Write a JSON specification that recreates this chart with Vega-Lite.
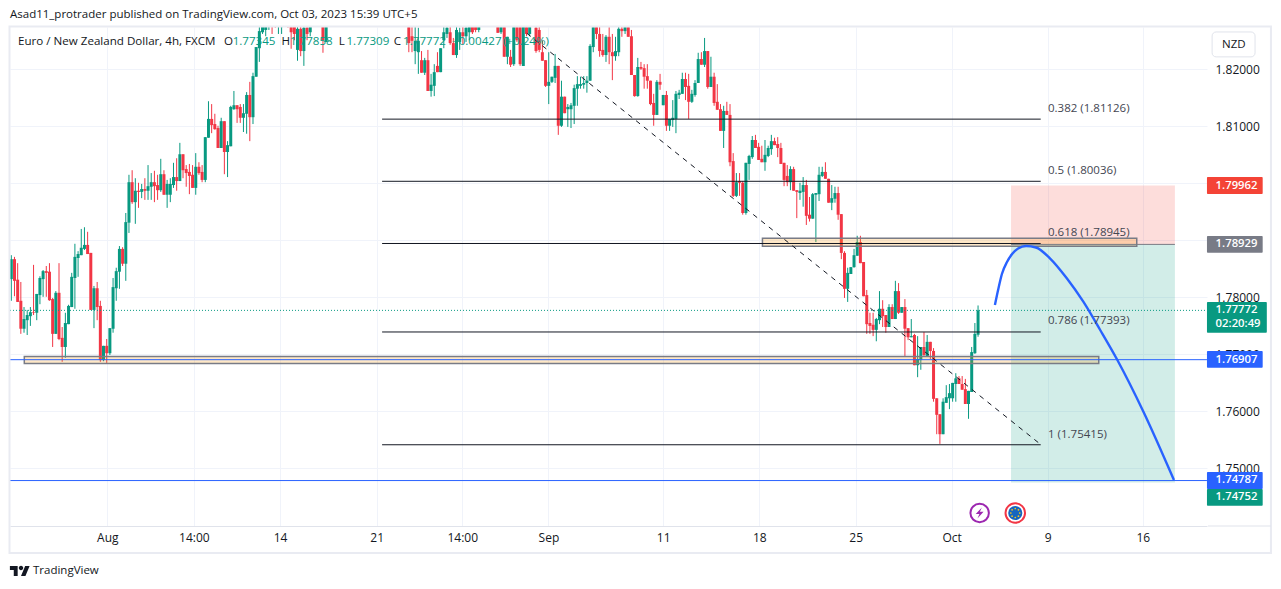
{
"$schema":"https://vega.github.io/schema/vega-lite/v6.json",
"width":1197,"height":499,"autosize":"none",
"padding":{"left":10,"top":27,"right":74,"bottom":63},
"background":"white",
"config":{"view":{"stroke":null},"font":"Open Sans"},
"datasets":{
"candles":[
{"i":0,"o":1.7832,"h":1.7874,"l":1.7794,"c":1.7867},{"i":1,"o":1.7867,"h":1.7871,"l":1.7802,"c":1.7829},{"i":2,"o":1.7831,"h":1.7860,"l":1.7792,"c":1.7792},{"i":3,"o":1.7794,"h":1.7827,"l":1.7736,"c":1.7745},{"i":4,"o":1.7745,"h":1.7783,"l":1.7738,"c":1.7762},{"i":5,"o":1.7760,"h":1.7778,"l":1.7734,"c":1.7769},{"i":6,"o":1.7767,"h":1.7783,"l":1.7750,"c":1.7774},{"i":7,"o":1.7774,"h":1.7857,"l":1.7769,"c":1.7773},{"i":8,"o":1.7773,"h":1.7806,"l":1.7760,"c":1.7806},{"i":9,"o":1.7804,"h":1.7837,"l":1.7788,"c":1.7834},
{"i":10,"o":1.7832,"h":1.7848,"l":1.7801,"c":1.7846},{"i":11,"o":1.7846,"h":1.7855,"l":1.7801,"c":1.7843},{"i":12,"o":1.7845,"h":1.7860,"l":1.7794,"c":1.7795},{"i":13,"o":1.7797,"h":1.7799,"l":1.7713,"c":1.7736},{"i":14,"o":1.7736,"h":1.7811,"l":1.7736,"c":1.7808},{"i":15,"o":1.7808,"h":1.7860,"l":1.7725,"c":1.7727},{"i":16,"o":1.7729,"h":1.7748,"l":1.7687,"c":1.7713},{"i":17,"o":1.7713,"h":1.7773,"l":1.7694,"c":1.7755},{"i":18,"o":1.7753,"h":1.7787,"l":1.7753,"c":1.7785},{"i":19,"o":1.7783,"h":1.7843,"l":1.7783,"c":1.7836},
{"i":20,"o":1.7834,"h":1.7894,"l":1.7780,"c":1.7871},{"i":21,"o":1.7869,"h":1.7881,"l":1.7836,"c":1.7876},{"i":22,"o":1.7874,"h":1.7920,"l":1.7874,"c":1.7887},{"i":23,"o":1.7885,"h":1.7923,"l":1.7883,"c":1.7892},{"i":24,"o":1.7892,"h":1.7915,"l":1.7876,"c":1.7876},{"i":25,"o":1.7878,"h":1.7878,"l":1.7778,"c":1.7778},{"i":26,"o":1.7778,"h":1.7820,"l":1.7746,"c":1.7816},{"i":27,"o":1.7816,"h":1.7827,"l":1.7760,"c":1.7783},{"i":28,"o":1.7785,"h":1.7794,"l":1.7687,"c":1.7690},{"i":29,"o":1.7690,"h":1.7715,"l":1.7688,"c":1.7715},
{"i":30,"o":1.7715,"h":1.7727,"l":1.7685,"c":1.7702},{"i":31,"o":1.7702,"h":1.7746,"l":1.7699,"c":1.7746},{"i":32,"o":1.7745,"h":1.7834,"l":1.7738,"c":1.7818},{"i":33,"o":1.7816,"h":1.7852,"l":1.7794,"c":1.7846},{"i":34,"o":1.7845,"h":1.7890,"l":1.7815,"c":1.7885},{"i":35,"o":1.7885,"h":1.7888,"l":1.7855,"c":1.7859},{"i":36,"o":1.7859,"h":1.7948,"l":1.7829,"c":1.7932},{"i":37,"o":1.7931,"h":1.8015,"l":1.7913,"c":1.8002},{"i":38,"o":1.8002,"h":1.8023,"l":1.7964,"c":1.7967},{"i":39,"o":1.7967,"h":1.8009,"l":1.7929,"c":1.7987},
{"i":40,"o":1.7987,"h":1.8001,"l":1.7957,"c":1.7985},{"i":41,"o":1.7985,"h":1.7999,"l":1.7974,"c":1.7990},{"i":42,"o":1.7990,"h":1.8009,"l":1.7971,"c":1.7987},{"i":43,"o":1.7987,"h":1.8032,"l":1.7971,"c":1.7995},{"i":44,"o":1.7994,"h":1.8018,"l":1.7971,"c":1.8002},{"i":45,"o":1.8002,"h":1.8022,"l":1.7967,"c":1.7995},{"i":46,"o":1.7997,"h":1.8015,"l":1.7971,"c":1.7988},{"i":47,"o":1.7988,"h":1.8043,"l":1.7985,"c":1.8016},{"i":48,"o":1.8016,"h":1.8023,"l":1.7980,"c":1.7980},{"i":49,"o":1.7980,"h":1.8006,"l":1.7957,"c":1.7999},
{"i":50,"o":1.7980,"h":1.8009,"l":1.7967,"c":1.7999},{"i":51,"o":1.7997,"h":1.8036,"l":1.7992,"c":1.8011},{"i":52,"o":1.8011,"h":1.8044,"l":1.7987,"c":1.8004},{"i":53,"o":1.8004,"h":1.8071,"l":1.8004,"c":1.8051},{"i":54,"o":1.8051,"h":1.8051,"l":1.8009,"c":1.8023},{"i":55,"o":1.8025,"h":1.8032,"l":1.7994,"c":1.8018},{"i":56,"o":1.8020,"h":1.8034,"l":1.7981,"c":1.8013},{"i":57,"o":1.8015,"h":1.8032,"l":1.7992,"c":1.7992},{"i":58,"o":1.7992,"h":1.8053,"l":1.7980,"c":1.8029},{"i":59,"o":1.8029,"h":1.8037,"l":1.8015,"c":1.8018},
{"i":60,"o":1.8020,"h":1.8032,"l":1.8002,"c":1.8006},{"i":61,"o":1.8006,"h":1.8081,"l":1.8002,"c":1.8081},{"i":62,"o":1.8080,"h":1.8144,"l":1.8080,"c":1.8113},{"i":63,"o":1.8113,"h":1.8139,"l":1.8088,"c":1.8102},{"i":64,"o":1.8104,"h":1.8122,"l":1.8094,"c":1.8095},{"i":65,"o":1.8097,"h":1.8101,"l":1.8062,"c":1.8062},{"i":66,"o":1.8062,"h":1.8115,"l":1.8062,"c":1.8109},{"i":67,"o":1.8109,"h":1.8109,"l":1.8016,"c":1.8055},{"i":68,"o":1.8055,"h":1.8074,"l":1.8011,"c":1.8067},{"i":69,"o":1.8065,"h":1.8136,"l":1.8065,"c":1.8134},
{"i":70,"o":1.8130,"h":1.8162,"l":1.8129,"c":1.8137},{"i":71,"o":1.8137,"h":1.8137,"l":1.8106,"c":1.8130},{"i":72,"o":1.8134,"h":1.8139,"l":1.8106,"c":1.8115},{"i":73,"o":1.8115,"h":1.8139,"l":1.8090,"c":1.8123},{"i":74,"o":1.8122,"h":1.8160,"l":1.8087,"c":1.8155},{"i":75,"o":1.8155,"h":1.8178,"l":1.8074,"c":1.8116},{"i":76,"o":1.8116,"h":1.8194,"l":1.8104,"c":1.8188},{"i":77,"o":1.8187,"h":1.8239,"l":1.8187,"c":1.8239},{"i":78,"o":1.8237,"h":1.8274,"l":1.8213,"c":1.8267},{"i":79,"o":1.8265,"h":1.8287,"l":1.8262,"c":1.8276},
{"i":80,"o":1.8269,"h":1.8290,"l":1.8258,"c":1.8280},{"i":81,"o":1.8276,"h":1.8295,"l":1.8269,"c":1.8287},{"i":82,"o":1.8287,"h":1.8301,"l":1.8262,"c":1.8280},{"i":83,"o":1.8283,"h":1.8297,"l":1.8273,"c":1.8278},{"i":84,"o":1.8278,"h":1.8297,"l":1.8262,"c":1.8290},{"i":85,"o":1.8274,"h":1.8301,"l":1.8262,"c":1.8290},{"i":86,"o":1.8290,"h":1.8304,"l":1.8276,"c":1.8283},{"i":87,"o":1.8287,"h":1.8301,"l":1.8273,"c":1.8280},{"i":88,"o":1.8280,"h":1.8295,"l":1.8236,"c":1.8265},{"i":89,"o":1.8276,"h":1.8290,"l":1.8251,"c":1.8262},
{"i":90,"o":1.8234,"h":1.8283,"l":1.8215,"c":1.8271},{"i":91,"o":1.8271,"h":1.8287,"l":1.8223,"c":1.8232},{"i":92,"o":1.8232,"h":1.8283,"l":1.8206,"c":1.8273},{"i":93,"o":1.8273,"h":1.8290,"l":1.8251,"c":1.8262},{"i":94,"o":1.8265,"h":1.8290,"l":1.8258,"c":1.8280},{"i":98,"o":1.8280,"h":1.8295,"l":1.8229,"c":1.8251},{"i":99,"o":1.8248,"h":1.8290,"l":1.8248,"c":1.8280},
{"i":125,"o":1.8274,"h":1.8295,"l":1.8230,"c":1.8246},{"i":126,"o":1.8258,"h":1.8274,"l":1.8230,"c":1.8250},{"i":127,"o":1.8232,"h":1.8274,"l":1.8209,"c":1.8250},{"i":128,"o":1.8230,"h":1.8273,"l":1.8192,"c":1.8250},{"i":129,"o":1.8216,"h":1.8232,"l":1.8194,"c":1.8194},{"i":130,"o":1.8194,"h":1.8220,"l":1.8190,"c":1.8216},{"i":131,"o":1.8216,"h":1.8234,"l":1.8162,"c":1.8162},{"i":132,"o":1.8162,"h":1.8192,"l":1.8152,"c":1.8173},{"i":133,"o":1.8171,"h":1.8209,"l":1.8153,"c":1.8195},{"i":134,"o":1.8206,"h":1.8230,"l":1.8195,"c":1.8195},
{"i":135,"o":1.8195,"h":1.8237,"l":1.8195,"c":1.8237},{"i":136,"o":1.8251,"h":1.8274,"l":1.8237,"c":1.8265},{"i":137,"o":1.8262,"h":1.8280,"l":1.8255,"c":1.8273},{"i":138,"o":1.8265,"h":1.8283,"l":1.8243,"c":1.8246},{"i":139,"o":1.8246,"h":1.8255,"l":1.8225,"c":1.8225},{"i":140,"o":1.8225,"h":1.8278,"l":1.8220,"c":1.8269},{"i":141,"o":1.8248,"h":1.8273,"l":1.8234,"c":1.8265},{"i":142,"o":1.8265,"h":1.8280,"l":1.8244,"c":1.8258},{"i":143,"o":1.8258,"h":1.8280,"l":1.8248,"c":1.8273},{"i":144,"o":1.8265,"h":1.8287,"l":1.8251,"c":1.8280},
{"i":145,"o":1.8280,"h":1.8297,"l":1.8262,"c":1.8265},{"i":146,"o":1.8276,"h":1.8290,"l":1.8265,"c":1.8269},{"i":147,"o":1.8269,"h":1.8290,"l":1.8265,"c":1.8280},
{"i":153,"o":1.8280,"h":1.8297,"l":1.8264,"c":1.8264},{"i":154,"o":1.8265,"h":1.8294,"l":1.8262,"c":1.8280},{"i":155,"o":1.8274,"h":1.8290,"l":1.8222,"c":1.8222},{"i":156,"o":1.8222,"h":1.8257,"l":1.8209,"c":1.8257},{"i":157,"o":1.8222,"h":1.8234,"l":1.8204,"c":1.8208},{"i":158,"o":1.8209,"h":1.8278,"l":1.8206,"c":1.8274},{"i":159,"o":1.8274,"h":1.8290,"l":1.8248,"c":1.8251},{"i":160,"o":1.8274,"h":1.8294,"l":1.8206,"c":1.8209},{"i":161,"o":1.8206,"h":1.8283,"l":1.8206,"c":1.8274},{"i":162,"o":1.8274,"h":1.8295,"l":1.8258,"c":1.8262},{"i":163,"o":1.8262,"h":1.8290,"l":1.8258,"c":1.8276},
{"i":165,"o":1.8273,"h":1.8290,"l":1.8229,"c":1.8232},{"i":166,"o":1.8269,"h":1.8287,"l":1.8230,"c":1.8234},{"i":167,"o":1.8230,"h":1.8251,"l":1.8215,"c":1.8215},{"i":168,"o":1.8216,"h":1.8216,"l":1.8169,"c":1.8171},{"i":169,"o":1.8171,"h":1.8230,"l":1.8139,"c":1.8178},{"i":170,"o":1.8178,"h":1.8187,"l":1.8176,"c":1.8187},{"i":171,"o":1.8185,"h":1.8227,"l":1.8176,"c":1.8206},{"i":172,"o":1.8206,"h":1.8206,"l":1.8085,"c":1.8101},{"i":173,"o":1.8101,"h":1.8180,"l":1.8099,"c":1.8152},{"i":174,"o":1.8152,"h":1.8152,"l":1.8123,"c":1.8123},
{"i":175,"o":1.8130,"h":1.8139,"l":1.8099,"c":1.8134},{"i":176,"o":1.8130,"h":1.8141,"l":1.8097,"c":1.8137},{"i":177,"o":1.8136,"h":1.8173,"l":1.8104,"c":1.8167},{"i":178,"o":1.8166,"h":1.8188,"l":1.8136,"c":1.8174},{"i":179,"o":1.8171,"h":1.8187,"l":1.8166,"c":1.8174},{"i":180,"o":1.8173,"h":1.8188,"l":1.8166,"c":1.8176},{"i":181,"o":1.8176,"h":1.8188,"l":1.8159,"c":1.8180},{"i":182,"o":1.8180,"h":1.8244,"l":1.8180,"c":1.8241},{"i":183,"o":1.8239,"h":1.8276,"l":1.8230,"c":1.8274},{"i":184,"o":1.8274,"h":1.8280,"l":1.8253,"c":1.8262},
{"i":185,"o":1.8262,"h":1.8280,"l":1.8222,"c":1.8232},{"i":186,"o":1.8234,"h":1.8262,"l":1.8222,"c":1.8225},{"i":187,"o":1.8225,"h":1.8260,"l":1.8213,"c":1.8257},{"i":188,"o":1.8257,"h":1.8274,"l":1.8209,"c":1.8230},{"i":189,"o":1.8230,"h":1.8262,"l":1.8181,"c":1.8223},{"i":190,"o":1.8223,"h":1.8257,"l":1.8215,"c":1.8232},{"i":191,"o":1.8230,"h":1.8276,"l":1.8223,"c":1.8271},{"i":192,"o":1.8271,"h":1.8276,"l":1.8257,"c":1.8267},{"i":193,"o":1.8267,"h":1.8283,"l":1.8262,"c":1.8274},{"i":194,"o":1.8274,"h":1.8283,"l":1.8257,"c":1.8257},
{"i":195,"o":1.8258,"h":1.8269,"l":1.8190,"c":1.8190},{"i":196,"o":1.8190,"h":1.8190,"l":1.8152,"c":1.8153},{"i":197,"o":1.8153,"h":1.8220,"l":1.8152,"c":1.8204},{"i":198,"o":1.8204,"h":1.8213,"l":1.8199,"c":1.8201},{"i":199,"o":1.8202,"h":1.8209,"l":1.8166,"c":1.8187},{"i":200,"o":1.8188,"h":1.8209,"l":1.8166,"c":1.8180},{"i":201,"o":1.8180,"h":1.8180,"l":1.8137,"c":1.8139},{"i":202,"o":1.8141,"h":1.8157,"l":1.8101,"c":1.8120},{"i":203,"o":1.8120,"h":1.8181,"l":1.8120,"c":1.8178},{"i":204,"o":1.8178,"h":1.8192,"l":1.8164,"c":1.8173},
{"i":205,"o":1.8137,"h":1.8155,"l":1.8137,"c":1.8155},{"i":206,"o":1.8155,"h":1.8162,"l":1.8092,"c":1.8101},{"i":207,"o":1.8101,"h":1.8113,"l":1.8092,"c":1.8113},{"i":208,"o":1.8111,"h":1.8146,"l":1.8099,"c":1.8115},{"i":209,"o":1.8113,"h":1.8162,"l":1.8088,"c":1.8157},{"i":210,"o":1.8155,"h":1.8164,"l":1.8148,"c":1.8159},{"i":211,"o":1.8157,"h":1.8194,"l":1.8157,"c":1.8183},{"i":212,"o":1.8183,"h":1.8194,"l":1.8146,"c":1.8169},{"i":213,"o":1.8171,"h":1.8192,"l":1.8113,"c":1.8143},{"i":214,"o":1.8143,"h":1.8164,"l":1.8141,"c":1.8157},
{"i":215,"o":1.8155,"h":1.8181,"l":1.8152,"c":1.8176},{"i":216,"o":1.8176,"h":1.8229,"l":1.8176,"c":1.8218},{"i":217,"o":1.8218,"h":1.8230,"l":1.8208,"c":1.8208},{"i":218,"o":1.8208,"h":1.8255,"l":1.8204,"c":1.8232},{"i":219,"o":1.8232,"h":1.8232,"l":1.8166,"c":1.8169},{"i":220,"o":1.8169,"h":1.8222,"l":1.8169,"c":1.8187},{"i":221,"o":1.8187,"h":1.8194,"l":1.8136,"c":1.8141},{"i":222,"o":1.8143,"h":1.8174,"l":1.8129,"c":1.8129},{"i":223,"o":1.8130,"h":1.8139,"l":1.8092,"c":1.8092},{"i":224,"o":1.8092,"h":1.8136,"l":1.8062,"c":1.8127},
{"i":225,"o":1.8127,"h":1.8143,"l":1.8120,"c":1.8120},{"i":226,"o":1.8120,"h":1.8139,"l":1.8030,"c":1.8037},{"i":227,"o":1.8039,"h":1.8053,"l":1.7976,"c":1.7978},{"i":228,"o":1.7978,"h":1.8018,"l":1.7976,"c":1.8002},{"i":229,"o":1.8004,"h":1.8018,"l":1.7978,"c":1.8001},{"i":230,"o":1.8001,"h":1.8004,"l":1.7945,"c":1.7948},{"i":231,"o":1.7948,"h":1.8036,"l":1.7945,"c":1.8036},{"i":232,"o":1.8034,"h":1.8050,"l":1.8006,"c":1.8048},{"i":233,"o":1.8046,"h":1.8083,"l":1.8043,"c":1.8076},{"i":234,"o":1.8076,"h":1.8085,"l":1.8062,"c":1.8062},
{"i":235,"o":1.8064,"h":1.8071,"l":1.8041,"c":1.8041},{"i":236,"o":1.8043,"h":1.8066,"l":1.8037,"c":1.8037},{"i":237,"o":1.8037,"h":1.8076,"l":1.8022,"c":1.8050},{"i":238,"o":1.8048,"h":1.8066,"l":1.8046,"c":1.8062},{"i":239,"o":1.8060,"h":1.8085,"l":1.8050,"c":1.8074},{"i":240,"o":1.8074,"h":1.8080,"l":1.8067,"c":1.8067},{"i":241,"o":1.8069,"h":1.8081,"l":1.8046,"c":1.8062},{"i":242,"o":1.8062,"h":1.8071,"l":1.8034,"c":1.8034},{"i":243,"o":1.8036,"h":1.8036,"l":1.7995,"c":1.8006},{"i":244,"o":1.8013,"h":1.8032,"l":1.7995,"c":1.8002},
{"i":245,"o":1.8002,"h":1.8030,"l":1.7988,"c":1.8025},{"i":246,"o":1.8025,"h":1.8029,"l":1.7987,"c":1.7987},{"i":247,"o":1.7988,"h":1.7988,"l":1.7939,"c":1.7985},{"i":248,"o":1.7983,"h":1.8001,"l":1.7971,"c":1.7987},{"i":249,"o":1.7985,"h":1.8011,"l":1.7959,"c":1.7997},{"i":250,"o":1.7997,"h":1.8006,"l":1.7927,"c":1.7943},{"i":251,"o":1.7945,"h":1.7976,"l":1.7933,"c":1.7938},{"i":252,"o":1.7938,"h":1.7983,"l":1.7938,"c":1.7981},{"i":253,"o":1.7980,"h":1.7983,"l":1.7897,"c":1.7983},{"i":254,"o":1.7981,"h":1.8029,"l":1.7969,"c":1.8015},
{"i":255,"o":1.8013,"h":1.8029,"l":1.8011,"c":1.8020},{"i":256,"o":1.8020,"h":1.8037,"l":1.8008,"c":1.8008},{"i":257,"o":1.8008,"h":1.8008,"l":1.7966,"c":1.7966},{"i":258,"o":1.7966,"h":1.7997,"l":1.7953,"c":1.7974},{"i":259,"o":1.7973,"h":1.7994,"l":1.7966,"c":1.7983},{"i":260,"o":1.7983,"h":1.7994,"l":1.7936,"c":1.7945},{"i":261,"o":1.7946,"h":1.7946,"l":1.7867,"c":1.7878},{"i":262,"o":1.7878,"h":1.7881,"l":1.7799,"c":1.7815},{"i":263,"o":1.7815,"h":1.7852,"l":1.7792,"c":1.7843},{"i":264,"o":1.7841,"h":1.7853,"l":1.7841,"c":1.7853},
{"i":265,"o":1.7853,"h":1.7885,"l":1.7852,"c":1.7874},{"i":266,"o":1.7873,"h":1.7908,"l":1.7873,"c":1.7897},{"i":267,"o":1.7897,"h":1.7908,"l":1.7860,"c":1.7860},{"i":268,"o":1.7862,"h":1.7862,"l":1.7802,"c":1.7802},{"i":269,"o":1.7804,"h":1.7813,"l":1.7736,"c":1.7753},{"i":270,"o":1.7755,"h":1.7773,"l":1.7736,"c":1.7750},{"i":271,"o":1.7752,"h":1.7773,"l":1.7732,"c":1.7743},{"i":272,"o":1.7743,"h":1.7764,"l":1.7723,"c":1.7762},{"i":273,"o":1.7760,"h":1.7811,"l":1.7753,"c":1.7780},{"i":274,"o":1.7780,"h":1.7795,"l":1.7748,"c":1.7767},
{"i":275,"o":1.7769,"h":1.7769,"l":1.7738,"c":1.7748},{"i":276,"o":1.7748,"h":1.7788,"l":1.7748,"c":1.7783},{"i":277,"o":1.7783,"h":1.7788,"l":1.7762,"c":1.7762},{"i":278,"o":1.7762,"h":1.7829,"l":1.7762,"c":1.7811},{"i":279,"o":1.7811,"h":1.7825,"l":1.7771,"c":1.7773},{"i":280,"o":1.7773,"h":1.7783,"l":1.7773,"c":1.7783},{"i":281,"o":1.7783,"h":1.7797,"l":1.7697,"c":1.7745},{"i":282,"o":1.7746,"h":1.7746,"l":1.7725,"c":1.7730},{"i":283,"o":1.7730,"h":1.7762,"l":1.7730,"c":1.7732},{"i":284,"o":1.7734,"h":1.7736,"l":1.7681,"c":1.7681},
{"i":285,"o":1.7681,"h":1.7732,"l":1.7660,"c":1.7692},{"i":286,"o":1.7690,"h":1.7713,"l":1.7673,"c":1.7713},{"i":287,"o":1.7713,"h":1.7739,"l":1.7697,"c":1.7699},{"i":288,"o":1.7697,"h":1.7734,"l":1.7697,"c":1.7722},{"i":289,"o":1.7722,"h":1.7722,"l":1.7692,"c":1.7706},{"i":290,"o":1.7706,"h":1.7711,"l":1.7617,"c":1.7622},{"i":291,"o":1.7623,"h":1.7623,"l":1.7560,"c":1.7594},{"i":292,"o":1.7595,"h":1.7595,"l":1.7543,"c":1.7560},{"i":293,"o":1.7560,"h":1.7623,"l":1.7560,"c":1.7617},{"i":294,"o":1.7615,"h":1.7646,"l":1.7615,"c":1.7625},
{"i":295,"o":1.7623,"h":1.7648,"l":1.7604,"c":1.7632},{"i":296,"o":1.7623,"h":1.7650,"l":1.7617,"c":1.7650},{"i":297,"o":1.7648,"h":1.7667,"l":1.7617,"c":1.7658},{"i":298,"o":1.7658,"h":1.7662,"l":1.7648,"c":1.7648},{"i":299,"o":1.7648,"h":1.7662,"l":1.7638,"c":1.7638},{"i":300,"o":1.7639,"h":1.7657,"l":1.7613,"c":1.7613},{"i":301,"o":1.7613,"h":1.7636,"l":1.7587,"c":1.7636},{"i":302,"o":1.7634,"h":1.7713,"l":1.7634,"c":1.7704},{"i":303,"o":1.7702,"h":1.7755,"l":1.7701,"c":1.7736},{"i":304,"o":1.77345,"h":1.77858,"l":1.77309,"c":1.77772}
],
"position":[
{"i":314.37,"i2":365.9,"p":1.79962,"p2":1.78929,"kind":"stop"},
{"i":314.37,"i2":365.9,"p":1.78929,"p2":1.74752,"kind":"target"}
],
"zones":[
{"i":4.09,"i2":341.95,"p":1.76963,"p2":1.7684},
{"i":236.2,"i2":353.9,"p":1.79036,"p2":1.78896}
],
"fib":[
{"i":116.6,"i2":323.7,"p":1.81126},
{"i":116.6,"i2":323.7,"p":1.80036},
{"i":116.6,"i2":323.7,"p":1.78945},
{"i":116.6,"i2":323.7,"p":1.77393},
{"i":116.6,"i2":323.7,"p":1.75415}
],
"hlines":[
{"i":-0.41,"i2":375.98,"p":1.76907},
{"i":-0.41,"i2":375.98,"p":1.74787}
],
"trend":[{"i":162.1,"p":1.82632},{"i":323.8,"p":1.75415}],
"path":[
{"i":309.3,"p":1.77866},{"i":310.3,"p":1.78129},{"i":311.5,"p":1.7841},{"i":313.1,"p":1.7862},{"i":314.7,"p":1.78761},{"i":316.6,"p":1.78857},{"i":319.1,"p":1.78901},{"i":322.2,"p":1.78875},{"i":326.6,"p":1.78685},{"i":331.9,"p":1.78335},{"i":337.1,"p":1.77924},{"i":342.4,"p":1.77428},{"i":347.8,"p":1.76902},{"i":356,"p":1.75995},{"i":365.6,"p":1.74797}
],
"stars":[
{"i":317.1,"p":1.74218},{"i":314.3,"p":1.74218},{"i":315.7,"p":1.74297},{"i":315.7,"p":1.74139},{"i":316.7,"p":1.74274},{"i":314.7,"p":1.74274},{"i":316.7,"p":1.74162},{"i":314.7,"p":1.74162}
],
"tags":[
{"i":375.98,"i2":393.5,"p":1.80111,"p2":1.79813,"kind":"stop"},
{"i":375.98,"i2":393.5,"p":1.79077,"p2":1.78784,"kind":"entry"},
{"i":375.98,"i2":394.8,"p":1.77919,"p2":1.7738,"kind":"last"},
{"i":375.98,"i2":393.5,"p":1.77059,"p2":1.76766,"kind":"line"},
{"i":375.98,"i2":393.5,"p":1.74937,"p2":1.74639,"kind":"line"},
{"i":375.98,"i2":393.5,"p":1.74639,"p2":1.74346,"kind":"last"}
],
"tagText":[
{"i":378.7,"p":1.7996,"text":"1.79962"},
{"i":378.7,"p":1.7893,"text":"1.78929"},
{"i":378.7,"p":1.7778,"text":"1.77772"},
{"i":378.7,"p":1.7753,"text":"02:20:49"},
{"i":378.7,"p":1.7691,"text":"1.76907"},
{"i":378.7,"p":1.7479,"text":"1.74787"},
{"i":378.7,"p":1.7449,"text":"1.74752"}
],
"legendText":[
{"i":2.1,"p":1.8248,"text":"Euro / New Zealand Dollar, 4h, FXCM","kind":"dark"},
{"i":66.9,"p":1.8248,"text":"O","kind":"dark"},
{"i":69.6,"p":1.8248,"text":"1.77345","kind":"up"},
{"i":85,"p":1.8248,"text":"H","kind":"dark"},
{"i":87.6,"p":1.8248,"text":"1.77858","kind":"up"},
{"i":103,"p":1.8248,"text":"L","kind":"dark"},
{"i":105.4,"p":1.8248,"text":"1.77309","kind":"up"},
{"i":120.3,"p":1.8248,"text":"C","kind":"dark"},
{"i":123.2,"p":1.8248,"text":"1.77772","kind":"up"},
{"i":138.6,"p":1.8248,"text":"+0.00427","kind":"up"},
{"i":154.6,"p":1.8248,"text":"(+0.24%)","kind":"up"}
],
"text":[
{"i":-0.41,"p":1.8295,"text":"Asad11_protrader published on TradingView.com, Oct 03, 2023 15:39 UTC+5","kind":"dark"},
{"i":326,"p":1.81305,"text":"0.382 (1.81126)","kind":"fib"},
{"i":326,"p":1.80216,"text":"0.5 (1.80036)","kind":"fib"},
{"i":326,"p":1.79129,"text":"0.618 (1.78945)","kind":"fib"},
{"i":326,"p":1.77585,"text":"0.786 (1.77393)","kind":"fib"},
{"i":326,"p":1.75586,"text":"1 (1.75415)","kind":"fib"},
{"i":380.7,"p":1.8243,"text":"NZD","kind":"dark"},
{"i":6.82,"p":1.732,"text":"TradingView","kind":"dark"}
],
"frame":[{"i":-0.57,"i2":396.1,"p":1.82751,"p2":1.73516}],
"frameRule":[{"i":376.3,"i2":396.1,"p":1.73990}],
"button":[{"i":377.6,"i2":391.1,"p":1.82655,"p2":1.82218}]
},
"layer":[
{"data":{"name":"candles"},"mark":{"type":"rule","strokeWidth":1,"clip":true},
 "encoding":{
  "x":{"field":"i","type":"quantitative","title":null,
   "scale":{"domain":[-0.409,375.99],"nice":false,"zero":false,"padding":0},
   "axis":{"orient":"bottom","values":[30.2,57.4,84.5,114.9,141.8,168.9,205,235.2,265.5,295.7,325.9,355.8],
    "labelExpr":"{'30.2':'Aug','57.4':'14:00','84.5':'14','114.9':'21','141.8':'14:00','168.9':'Sep','205':'11','235.2':'18','265.5':'25','295.7':'Oct','325.9':'9','355.8':'16'}[datum.value]",
    "ticks":false,"domainColor":"#e0e3eb","domainWidth":1,"grid":true,"gridColor":"#f0f3fa","gridWidth":1,
    "labelColor":"#131722","labelFontSize":12,"labelPadding":6,"labelOverlap":false,"labelFlush":false}},
  "y":{"field":"h","type":"quantitative","title":null,
   "scale":{"domain":[1.7399,1.82742],"nice":false,"zero":false},
   "axis":{"orient":"right","values":[1.75,1.76,1.77,1.78,1.79,1.8,1.81,1.82],
    "labelExpr":"datum.value==1.79||datum.value==1.8?'':format(datum.value,'.5f')",
    "ticks":false,"domain":false,"grid":true,"gridColor":"#f0f3fa","gridWidth":1,
    "labelColor":"#131722","labelFontSize":12,"labelPadding":8,"labelOverlap":false,"labelFlush":false}},
  "y2":{"field":"l"},
  "color":{"condition":{"test":"datum.c>datum.o","value":"#089981"},"value":"#f23645"}}},
{"data":{"name":"candles"},"mark":{"type":"bar","size":3,"clip":true},
 "encoding":{"x":{"field":"i","type":"quantitative"},"y":{"field":"o","type":"quantitative"},"y2":{"field":"c"},
  "color":{"condition":{"test":"datum.c>datum.o","value":"#089981"},"value":"#f23645"}}},
{"data":{"name":"position"},"mark":{"type":"rect","opacity":0.18},
 "encoding":{"x":{"field":"i","type":"quantitative"},"x2":{"field":"i2"},"y":{"field":"p","type":"quantitative"},"y2":{"field":"p2"},
  "color":{"field":"kind","type":"nominal","legend":null,"scale":{"domain":["stop","target"],"range":["#f44336","#089981"]}}}},
{"data":{"name":"zones"},"mark":{"type":"rect","fill":"#ff9800","fillOpacity":0.22,"stroke":"#787b86","strokeWidth":1.5},
 "encoding":{"x":{"field":"i","type":"quantitative"},"x2":{"field":"i2"},"y":{"field":"p","type":"quantitative"},"y2":{"field":"p2"}}},
{"data":{"name":"fib"},"mark":{"type":"rule","color":"#131722","strokeWidth":1},
 "encoding":{"x":{"field":"i","type":"quantitative"},"x2":{"field":"i2"},"y":{"field":"p","type":"quantitative"}}},
{"data":{"name":"hlines"},"mark":{"type":"rule","color":"#2962ff","strokeWidth":1},
 "encoding":{"x":{"field":"i","type":"quantitative"},"x2":{"field":"i2"},"y":{"field":"p","type":"quantitative"}}},
{"data":{"values":[{"i":314.37,"i2":365.9,"p":1.78929}]},"mark":{"type":"rule","color":"#787b86","strokeWidth":1},
 "encoding":{"x":{"field":"i","type":"quantitative"},"x2":{"field":"i2"},"y":{"field":"p","type":"quantitative"}}},
{"data":{"values":[{"i":-0.41,"i2":375.98,"p":1.77772}]},"mark":{"type":"rule","color":"#089981","strokeWidth":1,"strokeDash":[1,2]},
 "encoding":{"x":{"field":"i","type":"quantitative"},"x2":{"field":"i2"},"y":{"field":"p","type":"quantitative"}}},
{"data":{"name":"trend"},"mark":{"type":"line","color":"#131722","strokeWidth":1,"strokeDash":[5,5]},
 "encoding":{"x":{"field":"i","type":"quantitative"},"y":{"field":"p","type":"quantitative"}}},
{"data":{"name":"path"},"mark":{"type":"line","color":"#2962ff","strokeWidth":2.4,"interpolate":"monotone"},
 "encoding":{"x":{"field":"i","type":"quantitative"},"y":{"field":"p","type":"quantitative"}}},
{"data":{"values":[{"i":304.5,"p":1.74218}]},"mark":{"type":"point","shape":"circle","size":340,"filled":false,"color":"#9c27b0","strokeWidth":2,"opacity":1},
 "encoding":{"x":{"field":"i","type":"quantitative"},"y":{"field":"p","type":"quantitative"}}},
{"data":{"values":[{"i":304.5,"p":1.74218}]},"mark":{"type":"point","shape":"M.2,-.5L-.35,.1L-.02,.1L-.2,.5L.35,-.12L.02,-.12Z","size":500,"filled":true,"color":"#9c27b0","opacity":1},
 "encoding":{"x":{"field":"i","type":"quantitative"},"y":{"field":"p","type":"quantitative"}}},
{"data":{"values":[{"i":315.7,"p":1.74218}]},"mark":{"type":"point","shape":"circle","size":380,"filled":false,"color":"#f23645","strokeWidth":2,"opacity":1},
 "encoding":{"x":{"field":"i","type":"quantitative"},"y":{"field":"p","type":"quantitative"}}},
{"data":{"values":[{"i":315.7,"p":1.74218}]},"mark":{"type":"point","shape":"circle","size":200,"filled":true,"color":"#1565c0","opacity":1},
 "encoding":{"x":{"field":"i","type":"quantitative"},"y":{"field":"p","type":"quantitative"}}},
{"data":{"name":"stars"},"mark":{"type":"point","shape":"circle","size":3,"filled":true,"color":"#f5c518","opacity":1},
 "encoding":{"x":{"field":"i","type":"quantitative"},"y":{"field":"p","type":"quantitative"}}},
{"data":{"name":"tags"},"mark":{"type":"rect","cornerRadius":1},
 "encoding":{"x":{"field":"i","type":"quantitative"},"x2":{"field":"i2"},"y":{"field":"p","type":"quantitative"},"y2":{"field":"p2"},
  "color":{"field":"kind","type":"nominal","legend":null,"scale":{"domain":["stop","entry","last","line"],"range":["#f44336","#787b86","#089981","#2962ff"]}}}},
{"data":{"name":"tagText"},"mark":{"type":"text","align":"left","baseline":"middle","color":"white","fontSize":11.3,"fontWeight":600},
 "encoding":{"x":{"field":"i","type":"quantitative"},"y":{"field":"p","type":"quantitative"},"text":{"field":"text"}}},
{"data":{"name":"legendText"},"mark":{"type":"text","align":"left","baseline":"middle","fontSize":11.6},
 "encoding":{"x":{"field":"i","type":"quantitative"},"y":{"field":"p","type":"quantitative"},"text":{"field":"text"},
  "color":{"field":"kind","type":"nominal","legend":null,"scale":{"domain":["dark","up"],"range":["#131722","#089981"]}}}},
{"data":{"name":"text"},"mark":{"type":"text","align":"left","baseline":"middle","fontSize":11.5},
 "encoding":{"x":{"field":"i","type":"quantitative"},"y":{"field":"p","type":"quantitative"},"text":{"field":"text"},
  "color":{"field":"kind","type":"nominal","legend":null,"scale":{"domain":["dark","fib"],"range":["#131722","#434651"]}}}},
{"data":{"values":[{"i":2.7,"p":1.7319}]},"mark":{"type":"point","shape":"M-.111,.222L-.306,.222L-.306,-.083L-.5,-.083L-.5,-.278L-.111,-.278ZM.278,.222L.056,.222L.264,-.278L.486,-.278ZM-.055,-.181a.111,.111 0 1,0 .222,0a.111,.111 0 1,0 -.222,0Z","size":1600,"filled":true,"color":"#131722","opacity":1},
 "encoding":{"x":{"field":"i","type":"quantitative"},"y":{"field":"p","type":"quantitative"}}},
{"data":{"name":"button"},"mark":{"type":"rect","cornerRadius":4,"filled":false,"stroke":"#e0e3eb","strokeWidth":1},
 "encoding":{"x":{"field":"i","type":"quantitative"},"x2":{"field":"i2"},"y":{"field":"p","type":"quantitative"},"y2":{"field":"p2"}}},
{"data":{"name":"frame"},"mark":{"type":"rect","filled":false,"stroke":"#e9ebf2","strokeWidth":2},
 "encoding":{"x":{"field":"i","type":"quantitative"},"x2":{"field":"i2"},"y":{"field":"p","type":"quantitative"},"y2":{"field":"p2"}}},
{"data":{"name":"frameRule"},"mark":{"type":"rule","color":"#e0e3eb","strokeWidth":1},
 "encoding":{"x":{"field":"i","type":"quantitative"},"x2":{"field":"i2"},"y":{"field":"p","type":"quantitative"}}}
],
"resolve":{"scale":{"color":"independent"}}
}
